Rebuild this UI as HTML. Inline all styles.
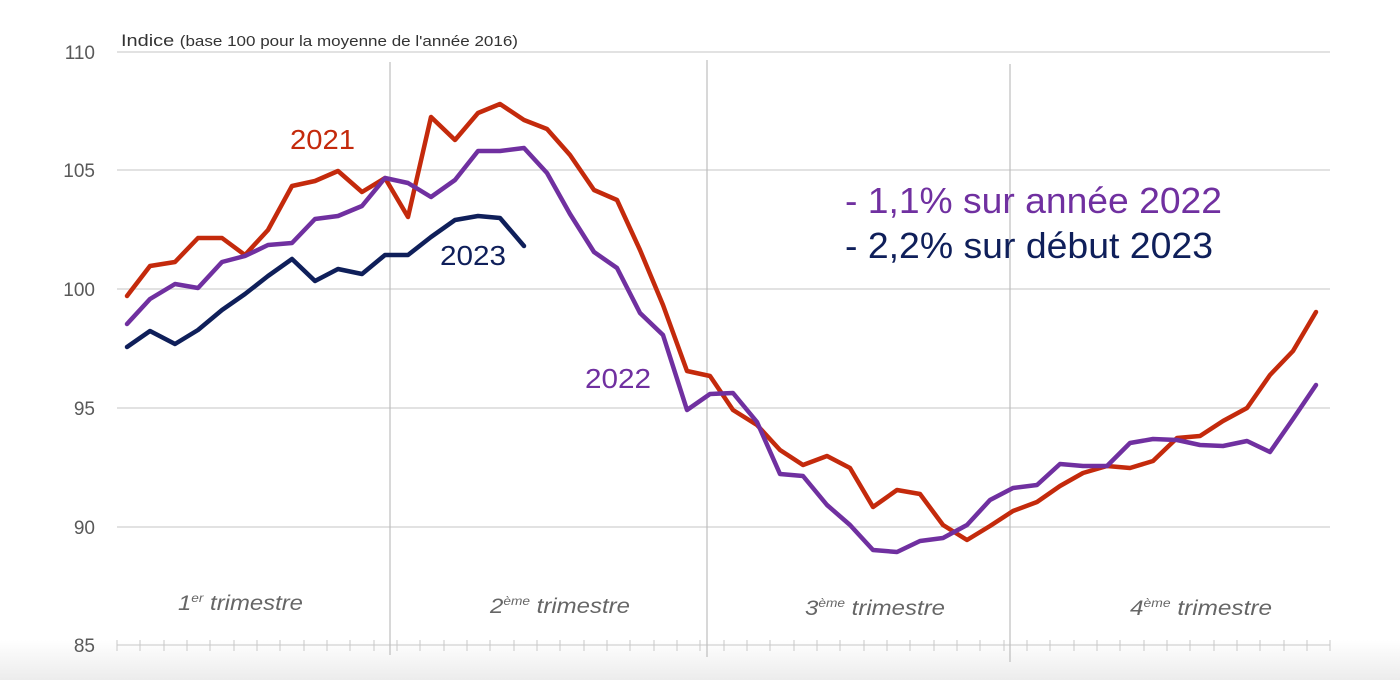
<!DOCTYPE html>
<html><head><meta charset="utf-8"><style>
html,body{margin:0;padding:0;background:#fff;}
svg{display:block;}
text{font-family:"Liberation Sans",sans-serif;}
</style></head><body>
<svg width="1400" height="680" viewBox="0 0 1400 680" xmlns="http://www.w3.org/2000/svg">
<defs><linearGradient id="bg" x1="0" y1="0" x2="0" y2="1"><stop offset="0" stop-color="#fff"/><stop offset="1" stop-color="#ececec"/></linearGradient></defs>
<rect width="1400" height="680" fill="#fff"/>
<rect y="640" width="1400" height="40" fill="url(#bg)"/>
<g stroke="#d9d9d9" stroke-width="1.5">
<line x1="117" y1="52" x2="1330" y2="52"/>
<line x1="117" y1="170" x2="1330" y2="170"/>
<line x1="117" y1="289" x2="1330" y2="289"/>
<line x1="117" y1="408" x2="1330" y2="408"/>
<line x1="117" y1="527" x2="1330" y2="527"/>
<line x1="117" y1="645" x2="1330" y2="645"/>
</g>
<g stroke="#bdbdbd" stroke-width="1.2">
<line x1="390" y1="62" x2="390" y2="655"/>
<line x1="707" y1="60" x2="707" y2="657"/>
<line x1="1010" y1="64" x2="1010" y2="662"/>
</g>
<g font-size="19" fill="#595959" text-anchor="end">
<text x="95" y="59">110</text><text x="95" y="177">105</text><text x="95" y="296">100</text>
<text x="95" y="415">95</text><text x="95" y="534">90</text><text x="95" y="652">85</text>
</g>
<text x="121" y="46" font-size="17" fill="#333" textLength="397" lengthAdjust="spacingAndGlyphs">Indice <tspan font-size="14.5">(base 100 pour la moyenne de l'année 2016)</tspan></text>
<g font-size="21" fill="#666" font-style="italic">
<text x="178" y="610" textLength="125" lengthAdjust="spacingAndGlyphs">1<tspan font-size="12" dy="-8">er</tspan><tspan dy="8"> trimestre</tspan></text>
<text x="490" y="613" textLength="140" lengthAdjust="spacingAndGlyphs">2<tspan font-size="12" dy="-8">ème</tspan><tspan dy="8"> trimestre</tspan></text>
<text x="805" y="615" textLength="140" lengthAdjust="spacingAndGlyphs">3<tspan font-size="12" dy="-8">ème</tspan><tspan dy="8"> trimestre</tspan></text>
<text x="1130" y="615" textLength="142" lengthAdjust="spacingAndGlyphs">4<tspan font-size="12" dy="-8">ème</tspan><tspan dy="8"> trimestre</tspan></text>
</g>
<g fill="none" stroke-width="4.5" stroke-linejoin="round" stroke-linecap="round">
<polyline stroke="#c42a0c" points="127,296 150,266 175,262 198,238 222,238 245,255 268,230 292,186 315,181 338,171 362,192 385,178 408,217 431,117 455,140 478,113 500,104 524,120 547,129 570,155 594,190 617,200 640,250 663,305 687,371 710,376 733,410 757,425 780,450 803,465 827,456 850,468 873,507 897,490 920,494 943,525 967,540 990,526 1013,511 1037,502 1060,486 1083,473 1107,466 1130,468 1153,461 1177,438 1200,436 1223,421 1247,408 1270,375 1293,351 1316,312"/>
<polyline stroke="#7030a0" points="127,324 150,299 175,284 198,288 222,262 245,256 268,245 292,243 315,219 338,216 362,206 385,178 408,183 431,197 455,180 478,151 500,151 524,148 547,173 570,214 594,252 617,268 640,313 663,335 687,410 710,394 733,393 757,422 780,474 803,476 827,505 850,525 873,550 897,552 920,541 943,538 967,525 990,500 1013,488 1037,485 1060,464 1083,466 1107,466 1130,443 1153,439 1177,440 1200,445 1223,446 1247,441 1270,452 1293,419 1316,385"/>
<polyline stroke="#0f1f5a" points="127,347 150,331 175,344 198,330 222,310 245,294 268,276 292,259 315,281 338,269 362,274 385,255 408,255 431,237 455,220 478,216 500,218 524,246"/>
</g>
<text x="290" y="149" font-size="28" fill="#c42a0c" textLength="65" lengthAdjust="spacingAndGlyphs">2021</text>
<text x="440" y="265" font-size="28" fill="#0f1f5a" textLength="66" lengthAdjust="spacingAndGlyphs">2023</text>
<text x="585" y="388" font-size="28" fill="#7030a0" textLength="66" lengthAdjust="spacingAndGlyphs">2022</text>
<text x="845" y="213" font-size="36" fill="#7030a0" textLength="377" lengthAdjust="spacingAndGlyphs">- 1,1% sur année 2022</text>
<text x="845" y="258" font-size="36" fill="#0f1f5a" textLength="368" lengthAdjust="spacingAndGlyphs">- 2,2% sur début 2023</text>
<g stroke="#c8c8c8" stroke-width="1">
<path d="M117 640v11M140 640v11M164 640v11M187 640v11M210 640v11M234 640v11M257 640v11M280 640v11M304 640v11M327 640v11M350 640v11M374 640v11M397 640v11M420 640v11M444 640v11M467 640v11M490 640v11M514 640v11M537 640v11M560 640v11M584 640v11M607 640v11M630 640v11M654 640v11M677 640v11M700 640v11M724 640v11M747 640v11M770 640v11M794 640v11M817 640v11M840 640v11M864 640v11M887 640v11M910 640v11M934 640v11M957 640v11M980 640v11M1004 640v11M1027 640v11M1050 640v11M1074 640v11M1097 640v11M1120 640v11M1144 640v11M1167 640v11M1190 640v11M1214 640v11M1237 640v11M1260 640v11M1284 640v11M1307 640v11M1330 640v11"/>
</g>
</svg>
</body></html>
